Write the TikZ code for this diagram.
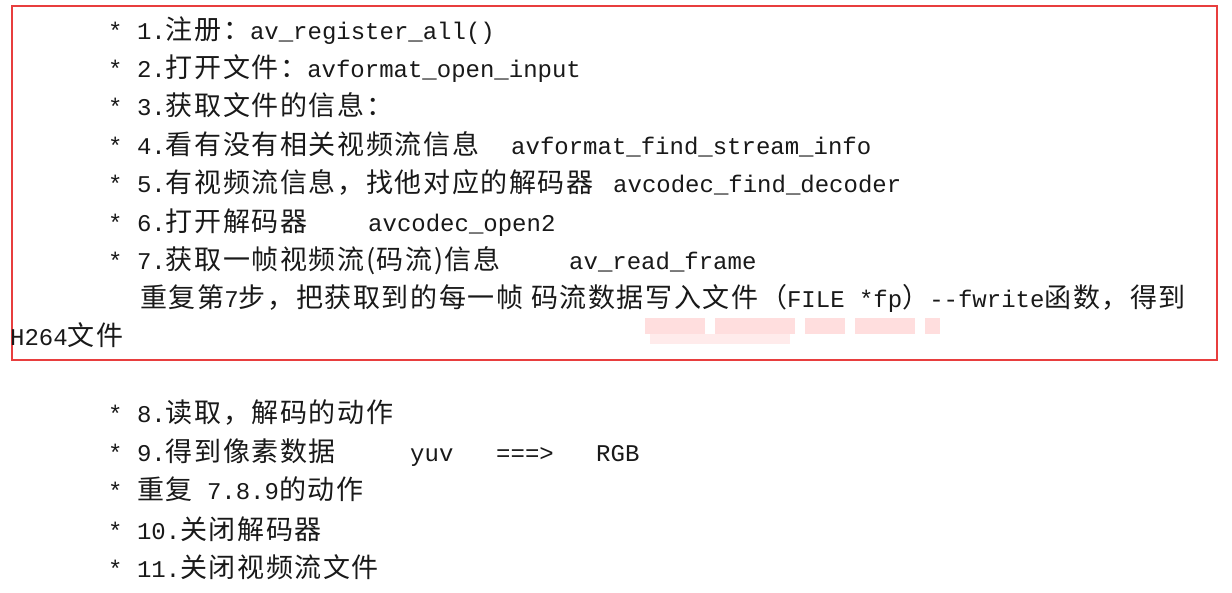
\documentclass[tikz,border=0pt]{standalone}
\usepackage{fontspec}
\setmainfont{Liberation Mono}
\newfontfamily\zhf[LetterSpace=6]{Noto Sans CJK SC}
\newcommand\zh{\zhf\fontsize{27}{30}\selectfont}
\begin{document}
\begin{tikzpicture}[x=1pt,y=-1pt,
  t/.style={anchor=base west,inner sep=0pt,font=\fontsize{24}{28}\selectfont,text=black!90}]
\useasboundingbox (0,0) rectangle (1232,593);
\fill[white] (0,0) rectangle (1232,593);
% blurred area
\foreach \x/\w in {645/60,715/80,805/40,855/60,925/15}{
  \fill[red!25,opacity=0.5] (\x,318) rectangle ++(\w,16);
}
\fill[red!15,opacity=0.5] (650,334) rectangle (790,344);
\draw[line width=2pt, draw={rgb,255:red,232;green,62;blue,62}] (12,6) rectangle (1217,360);
\node[t] (l1) at (108,40) {* 1.{\zh 注册：}av\_register\_all()};
\node[t] (l2) at (108,78) {* 2.{\zh 打开文件：}avformat\_open\_input};
\node[t] (l3) at (108,116) {* 3.{\zh 获取文件的信息：}};
\node[t] (l4) at (108,155) {* 4.{\zh 看有没有相关视频流信息}};
\node[t] (l4b) at (511,155) {avformat\_find\_stream\_info};
\node[t] (l5) at (108,193) {* 5.{\zh 有视频流信息，找他对应的解码器}};
\node[t] (l5b) at (613,193) {avcodec\_find\_decoder};
\node[t] (l6) at (108,232) {* 6.{\zh 打开解码器}};
\node[t] (l6b) at (368,232) {avcodec\_open2};
\node[t] (l7) at (108,270) {* 7.{\zh 获取一帧视频流(码流)信息}};
\node[t] (l7b) at (569,270) {av\_read\_frame};
\node[t] (l8) at (140,308) {{\zh 重复第}7{\zh 步，把获取到的每一帧 码流数据写入文件（}FILE *fp{\zh ）}-{}-fwrite{\zh 函数，得到}};
\node[t] (l8b) at (10,346) {H264{\zh 文件}};
\node[t] (m8) at (108,423) {* 8.{\zh 读取，解码的动作}};
\node[t] (m9) at (108,462) {* 9.{\zh 得到像素数据}};
\node[t] (m9a) at (410,462) {yuv};
\node[t] (m9b) at (496,462) {===>};
\node[t] (m9c) at (596,462) {RGB};
\node[t] (mr) at (108,500) {* {\zh 重复} 7.8.9{\zh 的动作}};
\node[t] (m10) at (108,539) {* 10.{\zh 关闭解码器}};
\node[t] (m11) at (108,577) {* 11.{\zh 关闭视频流文件}};
\end{tikzpicture}
\end{document}
